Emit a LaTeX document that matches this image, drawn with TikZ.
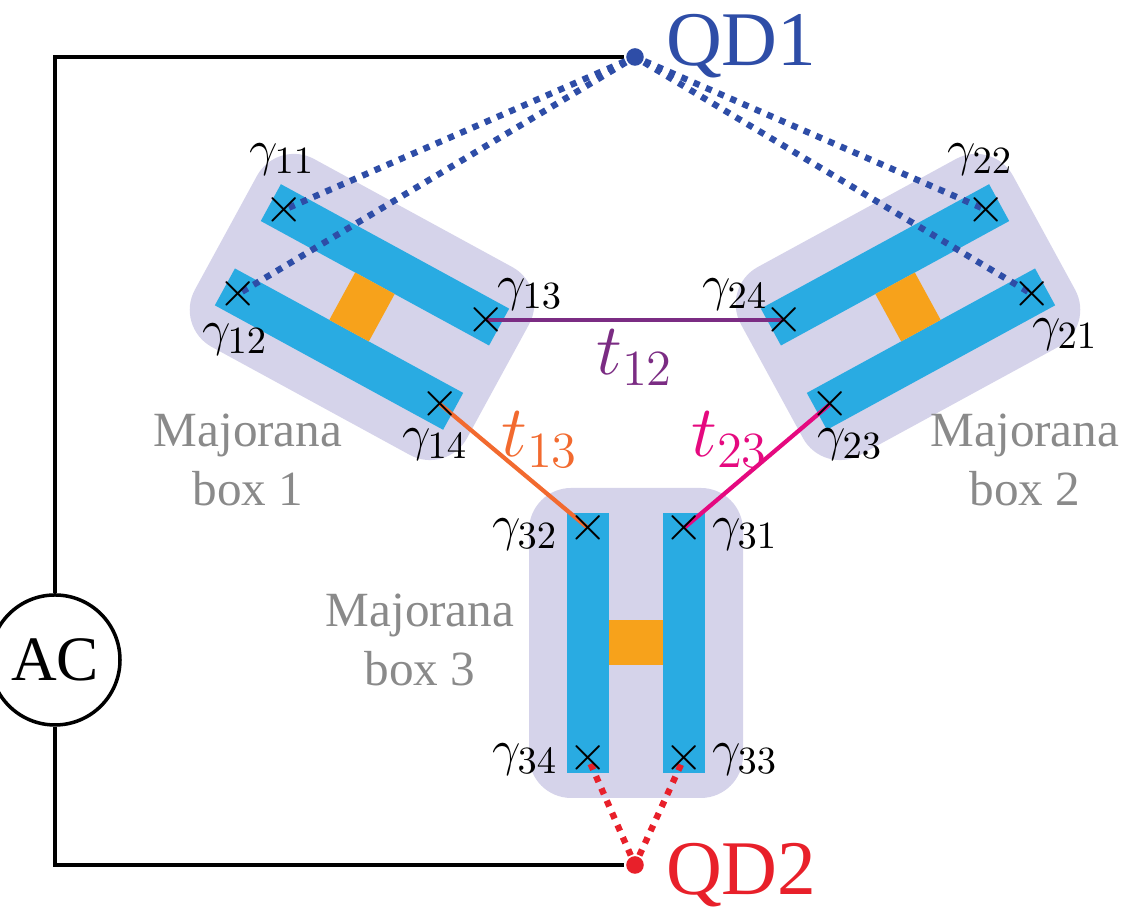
\documentclass[tikz,border=0pt]{standalone}
\usepackage{fontspec}
\setmainfont{Liberation Serif}
\usetikzlibrary{positioning}

\definecolor{boxbg}{RGB}{213,211,234}
\definecolor{wire}{RGB}{41,171,226}
\definecolor{link}{RGB}{247,162,27}
\definecolor{qdblue}{RGB}{46,77,167}
\definecolor{qdred}{RGB}{232,32,42}
\definecolor{tpurple}{RGB}{123,44,131}
\definecolor{torange}{RGB}{242,106,47}
\definecolor{tmagenta}{RGB}{229,9,127}
\definecolor{boxtext}{RGB}{138,138,138}

\tikzset{
	mbox/.pic={
		\fill[boxbg,rounded corners=12pt] (-1.55,-1.07) rectangle (1.55,1.07);
		\fill[wire] (-1.3,0.27) rectangle (1.3,0.69);
		\fill[wire] (-1.3,-0.69) rectangle (1.3,-0.27);
		\fill[link] (-0.225,-0.27) rectangle (0.225,0.27);
		\coordinate (-a) at (-1.15,0.48);
		\coordinate (-b) at (1.15,0.48);
		\coordinate (-c) at (-1.15,-0.48);
		\coordinate (-d) at (1.15,-0.48);
	}
}

\begin{document}
\begin{tikzpicture}[line width=1pt,
		cross/.style={inner sep=0pt,minimum size=0pt,label={[black,font=\Large]center:$\times$}},
		glabel/.style={font=\fontsize{15}{15}\selectfont,inner sep=1pt},
		tlabel/.style={font=\fontsize{20}{20}\selectfont,inner sep=1pt},
		boxname/.style={text=boxtext,align=center,font=\fontsize{14}{17}\selectfont},
		qd/.style={circle,fill,inner sep=0pt,minimum size=5pt},
		dotline/.style={dotted,line width=1.8pt},
		hop/.style={line width=1.2pt}]
	\useasboundingbox (0,0) rectangle (11.25,9.22);

	% the three boxes
	\pic[rotate=-28.6] (b1) at (3.62,6.15) {mbox};
	\pic[rotate=28.6] (b2) at (9.08,6.15) {mbox};
	\pic[rotate=90] (b3) at (6.36,2.79) {mbox};

	% quantum dots and circuit
	\node [qd,qdblue] (qd1) at (6.35,8.65) {};
	\node [qd,qdred] (qd2) at (6.35,0.57) {};
	\node [text=qdblue,font=\fontsize{22}{22}\selectfont,right=2pt of qd1,yshift=3pt] (qd1-lab) {QD1};
	\node [text=qdred,font=\fontsize{22}{22}\selectfont,right=2pt of qd2,yshift=-3pt] (qd2-lab) {QD2};
	\node [circle,draw,minimum size=1.3cm,inner sep=0pt,font=\fontsize{18}{18}\selectfont] (ac) at (0.55,2.62) {AC};
	\draw (qd1) -- (0.55,8.65) -- (ac.north);
	\draw (ac.south) -- (0.55,0.57) -- (qd2);

	% dotted couplings to the dots
	\draw[dotline,qdblue] (qd1) -- (b1-a);
	\draw[dotline,qdblue] (qd1) -- (b1-c);
	\draw[dotline,qdblue] (qd1) -- (b2-b);
	\draw[dotline,qdblue] (qd1) -- (b2-d);
	\draw[dotline,qdred] (qd2) -- (b3-a);
	\draw[dotline,qdred] (qd2) -- (b3-c);

	% tunnel couplings
	\draw[hop,tpurple] (b1-b) -- (b2-a);
	\draw[hop,torange] (b1-d) -- (b3-b);
	\draw[hop,tmagenta] (b2-c) -- (b3-d);
	\node [tlabel,text=tpurple] (t12) at (6.35,5.64) {$t_{12}$};
	\node [tlabel,text=torange] (t13) at (5.4,4.82) {$t_{13}$};
	\node [tlabel,text=tmagenta] (t23) at (7.3,4.82) {$t_{23}$};

	% majorana crosses and labels
	\foreach \p in {b1-a,b1-b,b1-c,b1-d,b2-a,b2-b,b2-c,b2-d,b3-a,b3-b,b3-c,b3-d}
		\node [cross] at (\p) {};
	\node [glabel] at (2.82,7.62) {$\gamma_{11}$};
	\node [glabel] at (2.35,5.82) {$\gamma_{12}$};
	\node [glabel] at (5.3,6.27) {$\gamma_{13}$};
	\node [glabel] at (4.35,4.77) {$\gamma_{14}$};
	\node [glabel] at (9.8,7.62) {$\gamma_{22}$};
	\node [glabel] at (10.65,5.87) {$\gamma_{21}$};
	\node [glabel] at (7.35,6.27) {$\gamma_{24}$};
	\node [glabel] at (8.5,4.77) {$\gamma_{23}$};
	\node [glabel] at (5.25,3.87) {$\gamma_{32}$};
	\node [glabel] at (7.45,3.87) {$\gamma_{31}$};
	\node [glabel] at (5.25,1.62) {$\gamma_{34}$};
	\node [glabel] at (7.45,1.62) {$\gamma_{33}$};

	% box names
	\node [boxname] (name1) at (2.48,4.62) {Majorana\\box 1};
	\node [boxname] (name2) at (10.25,4.62) {Majorana\\box 2};
	\node [boxname] (name3) at (4.2,2.82) {Majorana\\box 3};
\end{tikzpicture}
\end{document}
